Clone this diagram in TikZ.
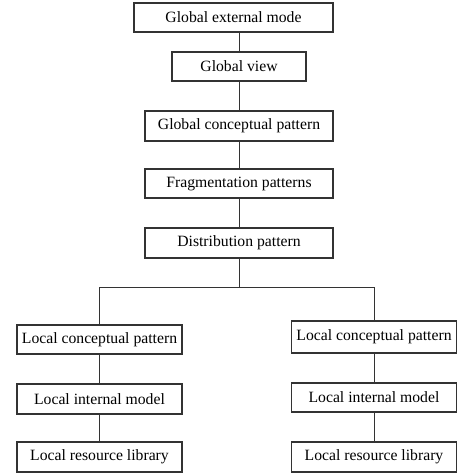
\documentclass[tikz,border=0pt]{standalone}
\usepackage{fontspec}
\setmainfont{Liberation Serif}
\usepackage{tikz}
\tikzstyle{box} = [draw=black!80, line width=1.3pt, rectangle, inner sep=0pt, minimum height=29pt, font={\fontsize{15.7}{18}\selectfont}]
\tikzstyle{wide} = [minimum width=188pt]
\tikzstyle{local} = [minimum width=165pt]
\tikzstyle{link} = [draw=black!80, line width=1pt]

\begin{document}
\begin{tikzpicture}[x=1pt,y=-1pt]
    \useasboundingbox (0,0) rectangle (474,474);
    \node[box,minimum width=199pt](gem) at (233.5,17.5){Global external mode};
    \node[box,minimum width=134pt](gview) at (239,66.5){Global view};
    \node[box,wide,minimum height=30pt](gcp) at (239,126){Global conceptual pattern};
    \node[box,wide](frag) at (239,183.5){Fragmentation patterns};
    \node[box,wide,minimum height=30pt](dist) at (239,243){Distribution pattern};
    \coordinate (split) at (239,287);
    \node[box,local](lcp1) at (99.5,339.5){Local conceptual pattern};
    \node[box,local,minimum height=30pt](lim1) at (99.5,399){Local internal model};
    \node[box,local,minimum height=30pt](lrl1) at (99.5,457){Local resource library};
    \node[box,local,minimum height=32pt](lcp2) at (374,337){Local conceptual pattern};
    \node[box,local](lim2) at (374,397.5){Local internal model};
    \node[box,local,minimum height=30pt](lrl2) at (374,457){Local resource library};
    \draw[link](gem.south -| gview)--(gview);
    \draw[link](gview)--(gcp);
    \draw[link](gcp)--(frag);
    \draw[link](frag)--(dist);
    \draw[link](dist.south)--(split)-|(lcp1.north);
    \draw[link](split)-|(lcp2.north);
    \draw[link](lcp1)--(lim1);
    \draw[link](lim1)--(lrl1);
    \draw[link](lcp2)--(lim2);
    \draw[link](lim2)--(lrl2);
  \end{tikzpicture}
\end{document}
